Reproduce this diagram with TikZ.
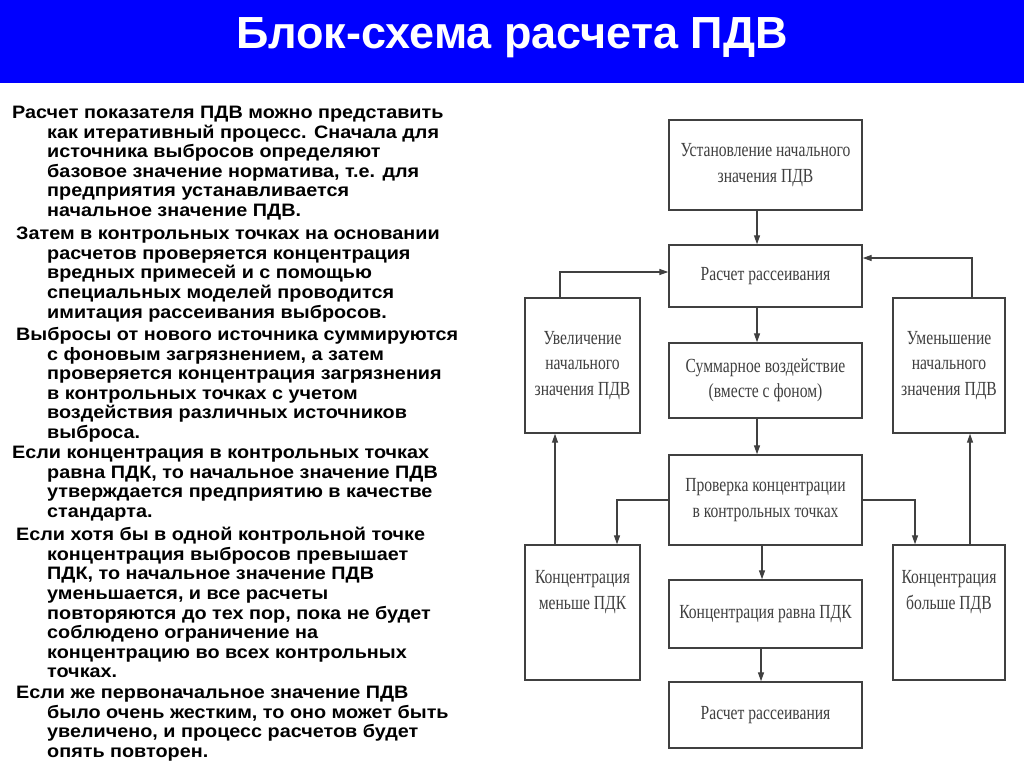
\documentclass[tikz,border=0pt]{standalone}
\usepackage{fontspec}
\setmainfont{Liberation Sans}
\newfontfamily\parafont[FakeStretch=1.1]{Liberation Sans}
\newfontfamily\boxfont[FakeStretch=0.78]{Liberation Serif}
\usetikzlibrary{arrows.meta}
\begin{document}
\begin{tikzpicture}[x=1pt,y=-1pt,
  fbox/.style={draw=black!75,line width=1.4pt,fill=white,inner sep=0pt,align=center,
     font=\boxfont\fontsize{20}{25.5}\selectfont,text=black!75},
  para/.style={anchor=north west,inner sep=0pt,align=left,
     font=\parafont\bfseries\fontsize{18}{19.6}\selectfont},
  arr/.style={draw=black!75,line width=1.3pt,-{Triangle[length=9pt,width=6pt]}}]
\useasboundingbox (0,0) rectangle (1024,768);
\fill[white] (0,0) rectangle (1024,768);
\fill[blue] (0,0) rectangle (1024,83);
\node[text=white,font=\bfseries\fontsize{45}{50}\selectfont] (title) at (512,38) {Блок-схема расчета ПДВ};
% text
\node[para] (p1) at (12,106) {Расчет показателя ПДВ можно представить\\
\hspace*{35pt}как итеративный процесс. Сначала для\\
\hspace*{35pt}источника выбросов определяют\\
\hspace*{35pt}базовое значение норматива, т.е. для\\
\hspace*{35pt}предприятия устанавливается\\
\hspace*{35pt}начальное значение ПДВ.};
\node[para] (p2) at (16,227) {Затем в контрольных точках на основании\\
\hspace*{31pt}расчетов проверяется концентрация\\
\hspace*{31pt}вредных примесей и с помощью\\
\hspace*{31pt}специальных моделей проводится\\
\hspace*{31pt}имитация рассеивания выбросов.};
\node[para] (p3) at (16,327) {Выбросы от нового источника суммируются\\
\hspace*{31pt}с фоновым загрязнением, а затем\\
\hspace*{31pt}проверяется концентрация загрязнения\\
\hspace*{31pt}в контрольных точках с учетом\\
\hspace*{31pt}воздействия различных источников\\
\hspace*{31pt}выброса.};
\node[para] (p4) at (12,446) {Если концентрация в контрольных точках\\
\hspace*{35pt}равна ПДК, то начальное значение ПДВ\\
\hspace*{35pt}утверждается предприятию в качестве\\
\hspace*{35pt}стандарта.};
\node[para] (p5) at (16,527) {Если хотя бы в одной контрольной точке\\
\hspace*{31pt}концентрация выбросов превышает\\
\hspace*{31pt}ПДК, то начальное значение ПДВ\\
\hspace*{31pt}уменьшается, и все расчеты\\
\hspace*{31pt}повторяются до тех пор, пока не будет\\
\hspace*{31pt}соблюдено ограничение на\\
\hspace*{31pt}концентрацию во всех контрольных\\
\hspace*{31pt}точках.};
\node[para] (p6) at (16,686) {Если же первоначальное значение ПДВ\\
\hspace*{31pt}было очень жестким, то оно может быть\\
\hspace*{31pt}увеличено, и процесс расчетов будет\\
\hspace*{31pt}опять повторен.};
% boxes
\node[fbox,minimum width=193pt,minimum height=90pt] (b1) at (765.5,165) {Установление начального\\значения ПДВ};
\node[fbox,minimum width=193pt,minimum height=62pt] (b2) at (765.5,276) {Расчет рассеивания};
\node[fbox,minimum width=193pt,minimum height=75pt] (b3) at (765.5,380.5) {Суммарное воздействие\\(вместе с фоном)};
\node[fbox,minimum width=193pt,minimum height=90pt] (b4) at (765.5,500) {Проверка концентрации\\в контрольных точках};
\node[fbox,minimum width=193pt,minimum height=68pt] (b5) at (765.5,614) {Концентрация равна ПДК};
\node[fbox,minimum width=193pt,minimum height=66pt] (b6) at (765.5,715) {Расчет рассеивания};
\node[fbox,minimum width=115pt,minimum height=135pt] (l1) at (582.5,365.5) {Увеличение\\начального\\значения ПДВ};
\node[fbox,minimum width=112pt,minimum height=135pt] (r1) at (949,365.5) {Уменьшение\\начального\\значения ПДВ};
\node[fbox,minimum width=115pt,minimum height=135pt,text depth=45pt] (l2) at (582.5,612.5) {Концентрация\\меньше ПДК};
\node[fbox,minimum width=112pt,minimum height=135pt,text depth=45pt] (r2) at (949,612.5) {Концентрация\\больше ПДВ};
% arrows
\draw[arr] (b1.south -| 757,0) -- (b2.north -| 757,0);
\draw[arr] (b2.south -| 757,0) -- (b3.north -| 757,0);
\draw[arr] (b3.south -| 757,0) -- (b4.north -| 757,0);
\draw[arr] (b4.south -| 762,0) -- (b5.north -| 762,0);
\draw[arr] (b5.south -| 761,0) -- (b6.north -| 761,0);
\draw[arr] (l1.north -| 560,0) |- (b2.west |- 0,272);
\draw[arr] (r1.north -| 972,0) |- (b2.east |- 0,258);
\draw[arr] (b4.west |- 0,500) -| (l2.north -| 617,0);
\draw[arr] (b4.east |- 0,500) -| (r2.north -| 915,0);
\draw[arr] (l2.north -| 555,0) -- (l1.south -| 555,0);
\draw[arr] (r2.north -| 970,0) -- (r1.south -| 970,0);
\end{tikzpicture}
\end{document}
